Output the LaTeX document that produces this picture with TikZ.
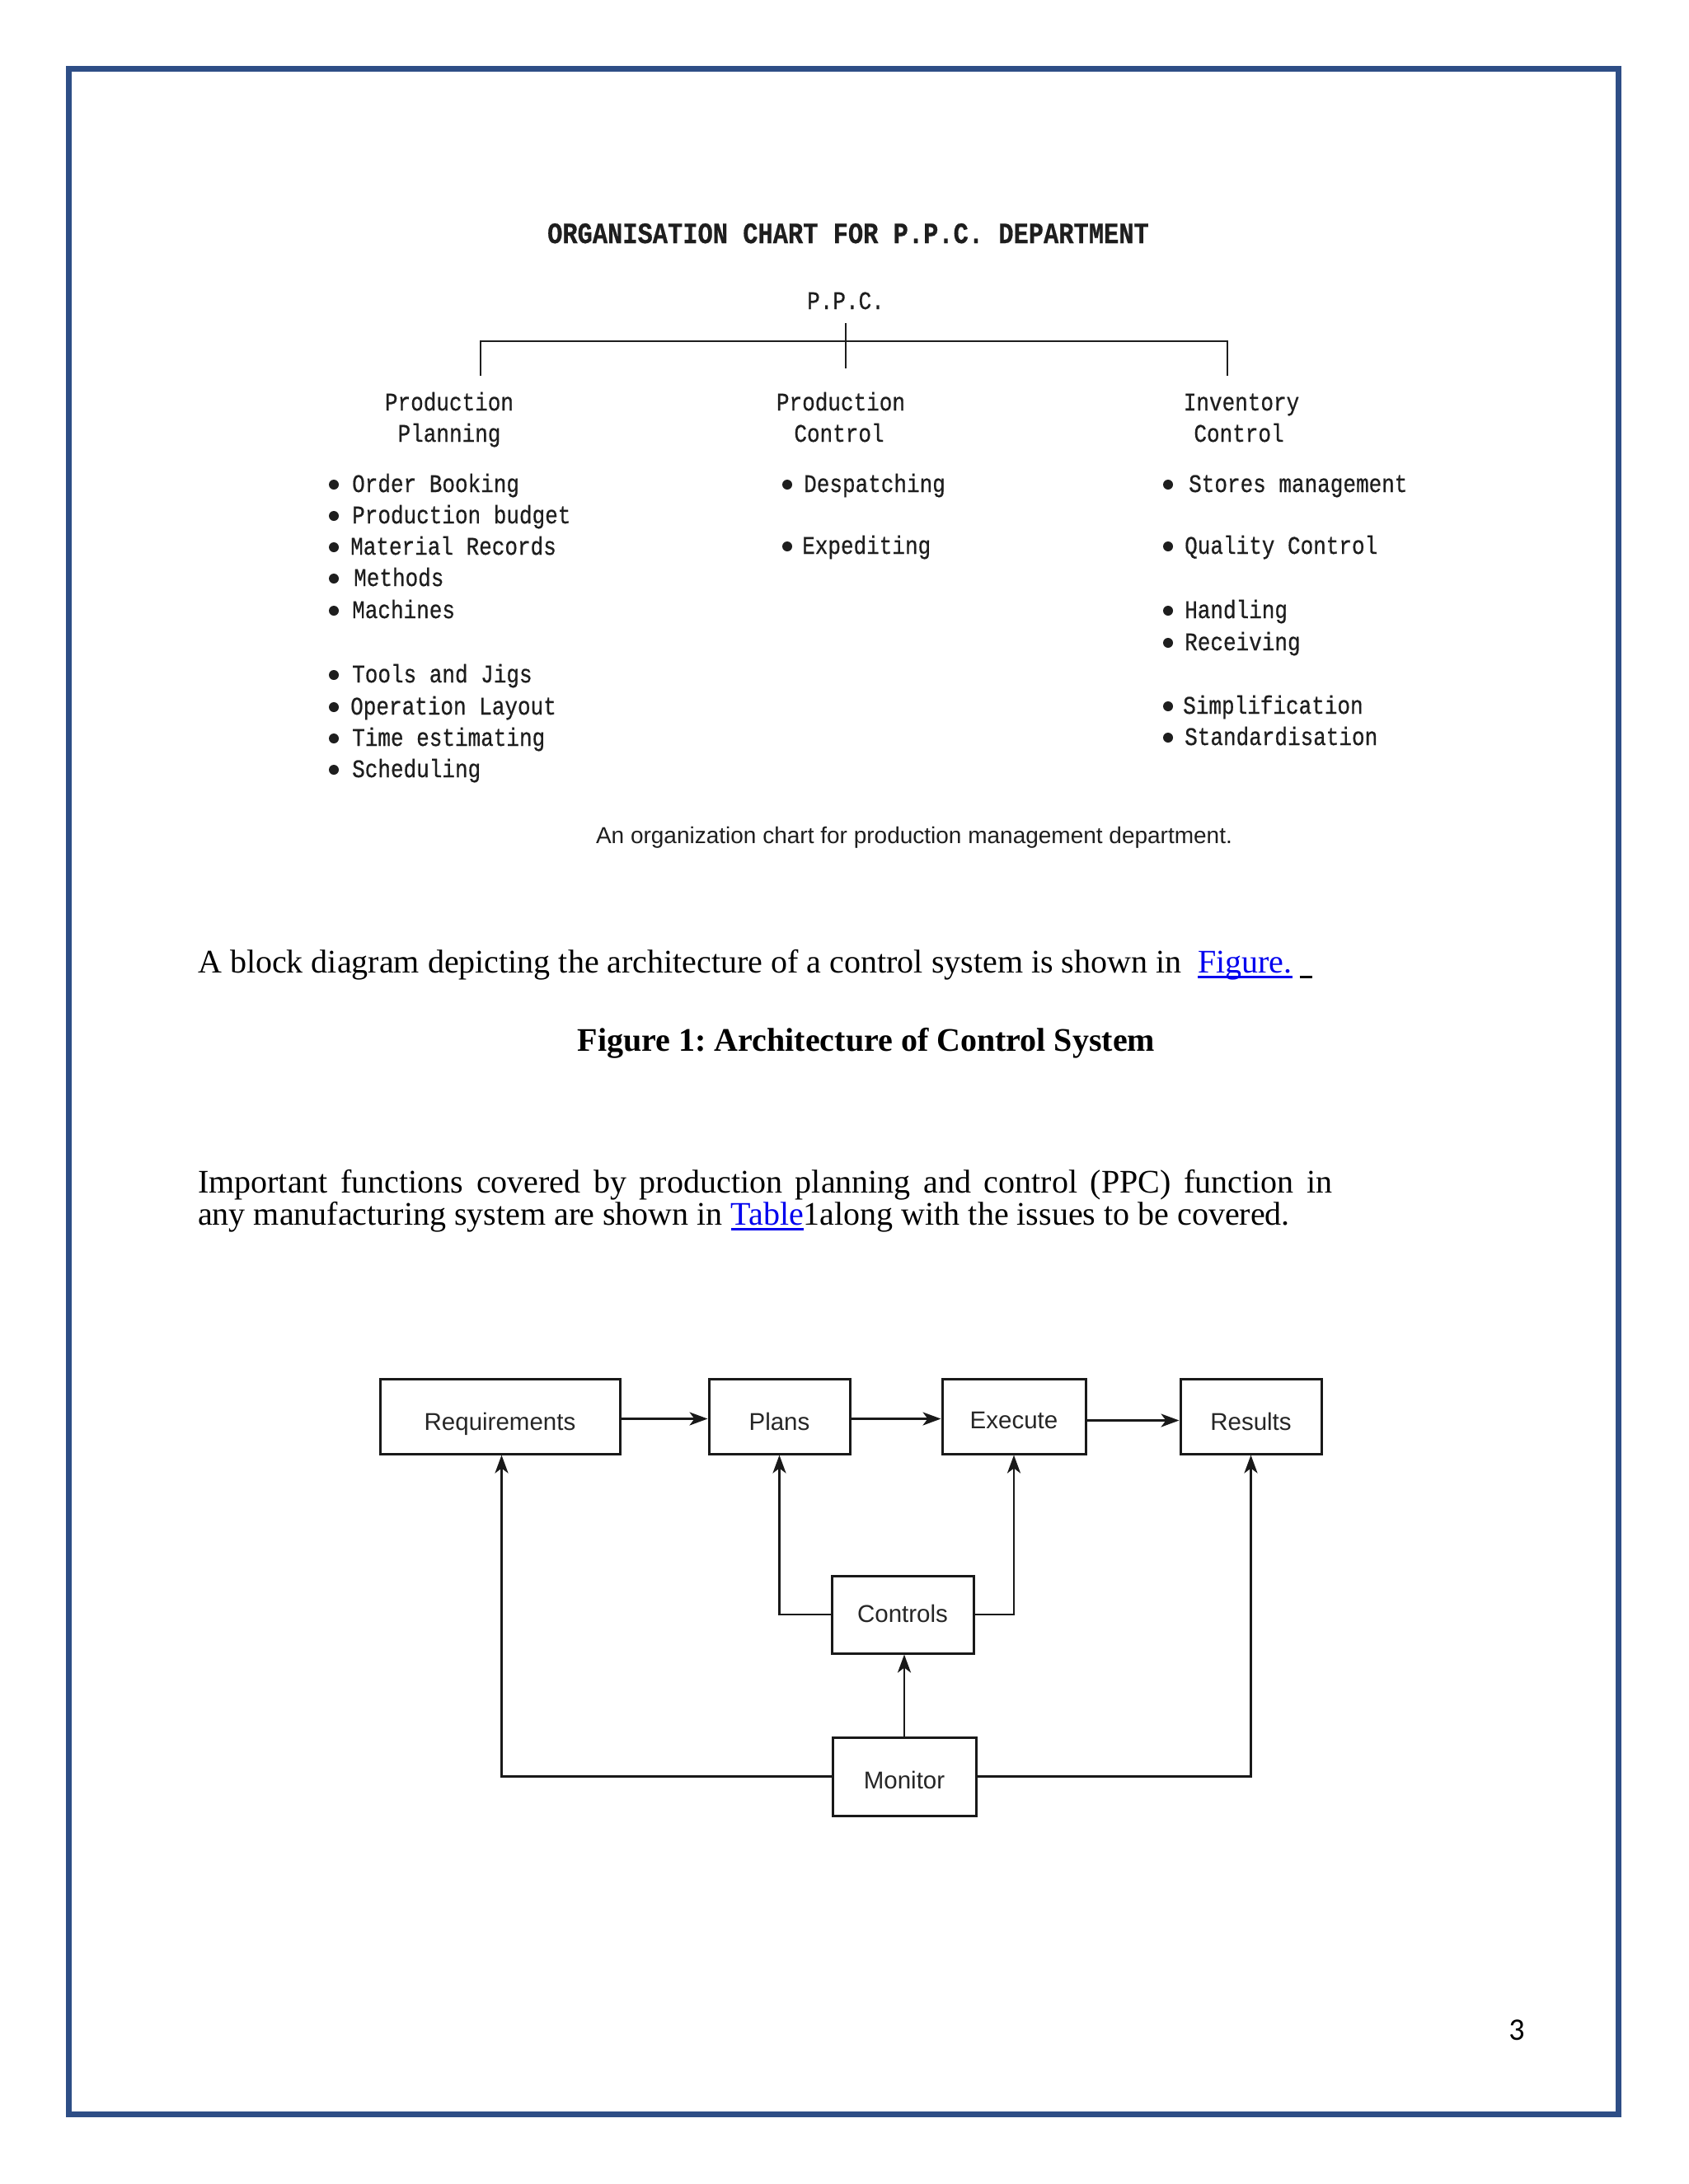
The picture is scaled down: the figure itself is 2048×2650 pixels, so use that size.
\documentclass[tikz,border=0pt]{standalone}
\usepackage{fontspec}
\usepackage{graphicx}
\setmainfont{Liberation Serif}
\newfontfamily\monof[FakeBold=0.6]{Liberation Mono}
\newfontfamily\arialf{Liberation Sans}
\newfontfamily\calf{Carlito}
\usetikzlibrary{arrows.meta}
\definecolor{frameblue}{RGB}{46,78,134}
\definecolor{linkblue}{RGB}{0,0,238}
\definecolor{ink}{RGB}{30,30,30}
\newcommand\myul[1]{\setbox0\hbox{#1}\rlap{\rule[-7pt]{\wd0}{3pt}}\box0}
\newcommand\vst[1]{\scalebox{1}[1.18]{#1}}
\frenchspacing
\begin{document}
\begin{tikzpicture}[x=1pt,y=-1pt,
  chart/.style={anchor=base west, inner sep=0, font=\monof\fontsize{26}{26}\selectfont, text=ink},
  charthead/.style={anchor=base, inner sep=0, font=\monof\fontsize{26}{26}\selectfont, text=ink},
  bul/.style={circle, fill=ink, inner sep=0, minimum size=12pt},
  tree/.style={draw=ink, line width=2pt},
  box/.style={draw=black!90, line width=3pt, inner sep=0, text height=33pt, text depth=0pt, font=\arialf\fontsize{29.5}{30}\selectfont, text=black!85},
  conn/.style={line width=2.8pt, draw=black!90, -{Stealth[length=22pt,width=16pt,inset=6pt]}},
  para/.style={anchor=base west, inner sep=0, font=\fontsize{40}{40}\selectfont}
]
\useasboundingbox (0,0) rectangle (2048,2650);
\fill[white] (0,0) rectangle (2048,2650);
\draw[frameblue, line width=7pt] (83.5,83.5) rectangle (1963.5,2565.5);

% ---- Organisation chart ----
\node[anchor=base, inner sep=0, font=\monof\bfseries\fontsize{30.4}{30}\selectfont, text=ink] (title) at (1029,295) {\vst{ORGANISATION CHART FOR P.P.C. DEPARTMENT}};
\node[charthead] (ppc) at (1026,375) {\vst{P.P.C.}};

\coordinate (ta) at (1026,392);
\coordinate (tb) at (1026,447);
\coordinate (hl) at (583,414);
\coordinate (hr) at (1489,414);
\coordinate (dl) at (583,456);
\coordinate (dr) at (1489,456);
\draw[tree] (ta) -- (tb);
\draw[tree] (dl) -- (hl) -- (hr) -- (dr);

\node[charthead] (h1a) at (545,498) {\vst{Production}};
\node[charthead] (h1b) at (545,536) {\vst{Planning}};
\node[charthead] (h2a) at (1020,498) {\vst{Production}};
\node[charthead] (h2b) at (1018,536) {\vst{Control}};
\node[charthead] (h3a) at (1506,498) {\vst{Inventory}};
\node[charthead] (h3b) at (1503,536) {\vst{Control}};

% left column
\node[bul] (lb1) at (405,588) {};
\node[chart] (l1) at (427,597) {\vst{Order Booking}};
\node[bul] (lb2) at (405,626) {};
\node[chart] (l2) at (427,635) {\vst{Production budget}};
\node[bul] (lb3) at (405,664) {};
\node[chart] (l3) at (425,673) {\vst{Material Records}};
\node[bul] (lb4) at (405,702) {};
\node[chart] (l4) at (429,711) {\vst{Methods}};
\node[bul] (lb5) at (405,741) {};
\node[chart] (l5) at (427,750) {\vst{Machines}};
\node[bul] (lb6) at (405,819) {};
\node[chart] (l6) at (427,828) {\vst{Tools and Jigs}};
\node[bul] (lb7) at (405,858) {};
\node[chart] (l7) at (425,867) {\vst{Operation Layout}};
\node[bul] (lb8) at (405,896) {};
\node[chart] (l8) at (427,905) {\vst{Time estimating}};
\node[bul] (lb9) at (405,934) {};
\node[chart] (l9) at (427,943) {\vst{Scheduling}};

% middle column
\node[bul] (mb1) at (955,588) {};
\node[chart] (m1) at (975,597) {\vst{Despatching}};
\node[bul] (mb2) at (955,663) {};
\node[chart] (m2) at (973,672) {\vst{Expediting}};

% right column
\node[bul] (rb1) at (1417,588) {};
\node[chart] (r1) at (1442,597) {\vst{Stores management}};
\node[bul] (rb2) at (1417,663) {};
\node[chart] (r2) at (1437,672) {\vst{Quality Control}};
\node[bul] (rb3) at (1417,741) {};
\node[chart] (r3) at (1437,750) {\vst{Handling}};
\node[bul] (rb4) at (1417,780) {};
\node[chart] (r4) at (1437,789) {\vst{Receiving}};
\node[bul] (rb5) at (1417,857) {};
\node[chart] (r5) at (1435,866) {\vst{Simplification}};
\node[bul] (rb6) at (1417,895) {};
\node[chart] (r6) at (1437,904) {\vst{Standardisation}};

\node[anchor=base, inner sep=0, font=\arialf\fontsize{28}{28}\selectfont, text=ink] (cap) at (1109,1023) {An organization chart for production management department.};

% ---- Text ----
\node[para] (p1) at (240,1180) {A block diagram depicting the architecture of a control system is shown in\ \ \textcolor{linkblue}{\myul{Figure.}}\hspace{9pt}\rule[-7pt]{15pt}{3pt}};
\node[anchor=base, inner sep=0, font=\bfseries\fontsize{40}{40}\selectfont] (figcap) at (1051,1275) {Figure 1: Architecture of Control System};
\node[para] (p2a) at (240,1447) {\makebox[1376pt][s]{Important functions covered by production planning and control (PPC) function in}};
\node[para] (p2b) at (240,1486) {any manufacturing system are shown in \textcolor{linkblue}{\myul{Table}}1along with the issues to be covered.};

% ---- Block diagram ----
\node[box, minimum width=291pt, minimum height=91pt] (req) at (606.5,1718.5) {Requirements};
\node[box, minimum width=171pt, minimum height=91pt] (plans) at (945.5,1718.5) {Plans};
\node[box, minimum width=174pt, minimum height=91pt, text height=29pt] (exec) at (1230,1718.5) {Execute};
\node[box, minimum width=171pt, minimum height=91pt] (res) at (1517.5,1718.5) {Results};
\node[box, minimum width=172pt, minimum height=94pt, text height=18pt] (ctrl) at (1095,1959) {Controls};
\node[box, minimum width=174pt, minimum height=95pt, text height=29pt] (mon) at (1097,2155.5) {Monitor};

\draw[conn] ([yshift=-3pt]req.east) -- ([yshift=-3pt]plans.west);
\draw[conn] ([yshift=-3pt]plans.east) -- ([yshift=-3pt]exec.west);
\draw[conn] ([yshift=-5pt]exec.east) -- ([yshift=-5pt]res.west);
\draw[conn] (mon.north) -- (mon.north |- ctrl.south);
\draw[conn] (mon.west) -| ([xshift=2pt]req.south);
\draw[conn] (mon.east) -| (res.south);
\draw[conn] (ctrl.west) -| (plans.south);
\draw[conn] (ctrl.east) -| (exec.south);

\node[anchor=base, inner sep=0, font=\calf\fontsize{38}{38}\selectfont] (pg) at (1840,2475) {3};
\end{tikzpicture}
\end{document}
